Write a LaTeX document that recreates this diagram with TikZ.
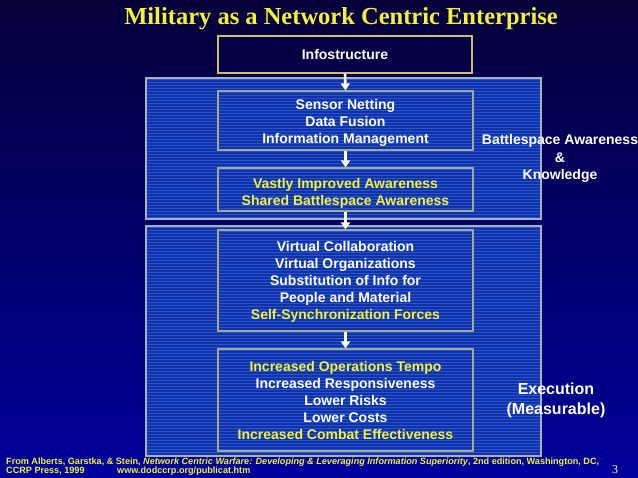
\documentclass[tikz,border=0pt]{standalone}
\usepackage{fontspec}
\setmainfont{Liberation Sans}
\newfontfamily\serifb{Liberation Serif}
\usetikzlibrary{arrows.meta}
\definecolor{bgtop}{HTML}{06003A}
\definecolor{bgbot}{HTML}{00009C}
\definecolor{stripeA}{HTML}{2454D8}
\definecolor{stripeB}{HTML}{1232A4}
\definecolor{ylw}{HTML}{F2F23A}
\definecolor{outerline}{HTML}{A8B0B8}
\definecolor{innerline}{HTML}{9EAA96}
\definecolor{infoline}{HTML}{C8C070}
\tikzset{
  stripebox/.style={draw, line width=1.2pt, fill=stripeB, inner sep=0pt,
    path picture={\foreach \k in {0,...,80}{
      \draw[stripeA, line width=1.5pt]
        ([yshift={-(3*\k+1.5)*1pt}]path picture bounding box.north west) --
        ([yshift={-(3*\k+1.5)*1pt}]path picture bounding box.north east);}}},
  outerbox/.style={stripebox, draw=outerline},
  innerbox/.style={stripebox, draw=innerline, text=white,
    font=\bfseries\fontsize{14}{17}\selectfont, align=center},
  infobox/.style={draw=infoline, line width=1.2pt, text=white,
    font=\bfseries\fontsize{14}{17}\selectfont, align=center, inner sep=0pt},
  flowarrow/.style={draw=white, line width=2.6pt, -{Triangle[width=9pt,length=7pt]}},
  sidelabel/.style={text=white, font=\bfseries\fontsize{14}{17.5}\selectfont, align=center},
  execlabel/.style={text=white, font=\bfseries\fontsize{16}{20}\selectfont, align=center},
  foot/.style={text=ylw, font=\bfseries\fontsize{9.1}{9}\selectfont, anchor=west, inner sep=0pt},
}
\begin{document}
\begin{tikzpicture}[x=1pt,y=-1pt]
\fill[top color=bgtop, bottom color=bgbot] (0,0) rectangle (638,478);
\useasboundingbox (0,0) rectangle (638,478);

\node[text=ylw, font=\serifb\bfseries\fontsize{24.5}{28}\selectfont, anchor=base] (title) at (341,25) {Military as a Network Centric Enterprise};

\node[infobox, minimum width=254, minimum height=37] (info) at (345,54.5) {Infostructure};

\node[outerbox, minimum width=395, minimum height=141] (outer1) at (343.5,148.5) {};
\node[outerbox, minimum width=395, minimum height=230] (outer2) at (343.5,341) {};

\node[innerbox, minimum width=255, minimum height=59] (boxA) at (345.5,120.5)
  {\rule{0pt}{14pt}Sensor Netting\\Data Fusion\\Information Management};
\node[innerbox, minimum width=255, minimum height=43] (boxB) at (345.5,189.5)
  {\rule{0pt}{18pt}\textcolor{ylw}{Vastly Improved Awareness}\\\textcolor{ylw}{Shared Battlespace Awareness}};
\node[innerbox, minimum width=255, minimum height=101] (boxC) at (345.5,280.5)
  {\rule{0pt}{12pt}Virtual Collaboration\\Virtual Organizations\\Substitution of Info for\\People and Material\\\textcolor{ylw}{Self-Synchronization Forces}};
\node[innerbox, minimum width=255, minimum height=102] (boxD) at (345.5,400)
  {\rule{0pt}{12pt}\textcolor{ylw}{Increased Operations Tempo}\\Increased Responsiveness\\Lower Risks\\Lower Costs\\\textcolor{ylw}{Increased Combat Effectiveness}};

\draw[flowarrow] (info.south) -- (boxA.north);
\draw[flowarrow] (boxA.south) -- (boxB.north);
\draw[flowarrow] (boxB.south) -- (boxC.north);
\draw[flowarrow] (boxC.south) -- (boxD.north);

\node[sidelabel] (bsa) at (560,158.5) {Battlespace Awareness\\\&\\Knowledge};
\node[execlabel] (exec) at (556,400) {Execution\\(Measurable)};

\node[foot] (foot1) at (6,462) {From Alberts, Garstka, \& Stein, \textit{Network Centric Warfare: Developing \& Leveraging Information Superiority}, 2nd edition, Washington, DC,};
\node[foot] (foot2) at (6,471) {CCRP Press, 1999};
\node[foot] (foot3) at (117,471) {www.dodccrp.org/publicat.htm};
\node[text=white, font=\serifb\fontsize{12}{14}\selectfont] (pagenum) at (615,470) {3};
\end{tikzpicture}
\end{document}
